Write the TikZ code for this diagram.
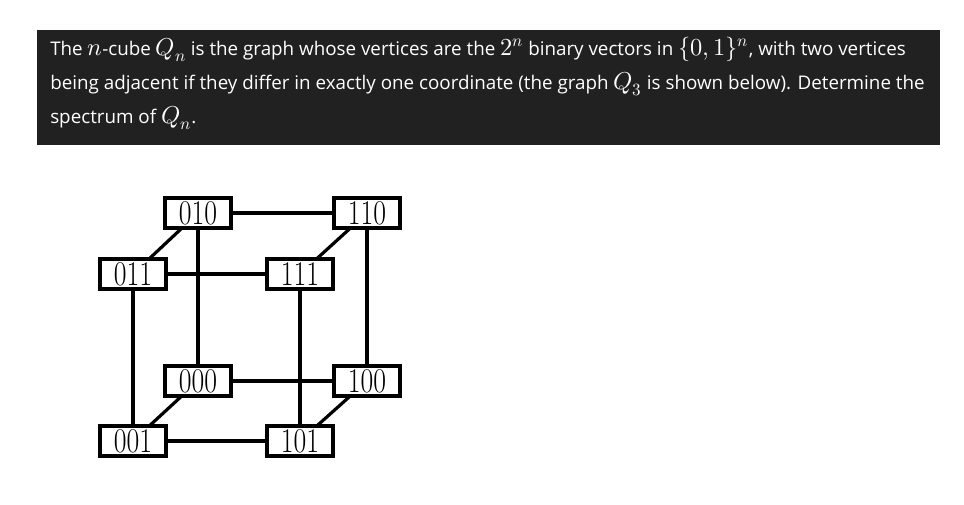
\documentclass[tikz,border=0pt]{standalone}
\usepackage{fontspec}
\setmainfont{Open Sans}
\usepackage{unicode-math}
\setmathfont{Latin Modern Math}[Scale=1.3]
\newcommand{\bsize}{\fontsize{14.1pt}{17pt}\selectfont}
\begin{document}
\begin{tikzpicture}[x=0.75pt,y=-0.75pt,
  vtx/.style={draw,line width=2.4pt,fill=white,minimum width=49.5pt,minimum height=22.5pt,inner sep=0pt},
  edge/.style={line width=2.4pt},
  txt/.style={anchor=west,text=white,inner sep=0pt}]
\useasboundingbox (0,0) rectangle (964,504);
\fill[fill=black!87] (37,30) rectangle (940,145);
\node[txt] (l1) at (50,49) {\bsize The $n$-cube $Q_n$ is the graph whose vertices are the $2^n$ binary vectors in $\{0,1\}^n$, with two vertices};
\node[txt] (l2) at (50,84) {\bsize being adjacent if they differ in exactly one coordinate (the graph $Q_3$ is shown below). Determine the};
\node[txt] (l3) at (50,118) {\bsize spectrum of $Q_n$.};
\coordinate (p010) at (198,213); \coordinate (p110) at (367,213);
\coordinate (p011) at (133,274); \coordinate (p111) at (300,274);
\coordinate (p000) at (198,381); \coordinate (p100) at (367,381);
\coordinate (p001) at (133,441); \coordinate (p101) at (300,441);
\foreach \a/\b in {010/110,010/000,110/100,011/111,011/001,111/101,000/100,001/101,010/011,110/111,000/001,100/101}
  \draw[edge] (p\a) -- (p\b);
\foreach \n in {010,110,011,111,000,100,001,101}
  \node[vtx] (n\n) at (p\n) {\fontspec{Latin Modern Roman}\fontsize{26pt}{26pt}\selectfont\scalebox{0.8}[1]{\n}};
\end{tikzpicture}
\end{document}
